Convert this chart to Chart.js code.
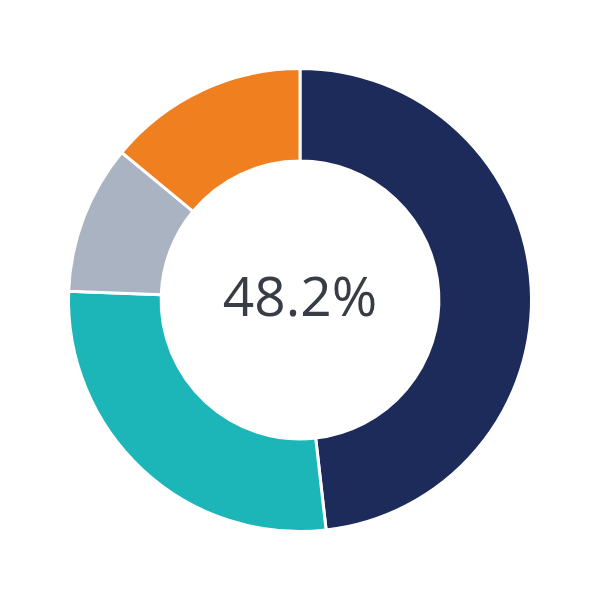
<!DOCTYPE html>
<html>
<head>
<meta charset="utf-8">
<script src="https://cdn.jsdelivr.net/npm/chart.js@4/dist/chart.umd.min.js"></script>
<style>
  html, body { margin: 0; padding: 0; background: #fff; }
  #wrap { width: 600px; height: 600px; }
</style>
</head>
<body>
<div id="wrap"><canvas id="chart"></canvas></div>
<script>
const labels = ['Navy', 'Teal', 'Gray', 'Orange']
const values = [48.2, 27.4, 10.4, 14.0]
const colors = ['#1c2b5a', '#1cb5b8', '#a9b3c1', '#f07f1f']
const centerLabel = '48.2%'

// draws the big number in the hole
const centerText = {
  id: 'centerText',
  afterDraw(chart) {
    const { ctx, chartArea } = chart
    const x = (chartArea.left + chartArea.right) / 2
    const y = (chartArea.top + chartArea.bottom) / 2
    ctx.save()
    ctx.font = '400 55px "Open Sans"'
    ctx.fillStyle = '#383c45'
    ctx.textAlign = 'center'
    ctx.textBaseline = 'alphabetic'
    ctx.fillText(centerLabel, x, y + 16)
    ctx.restore()
  },
}

new Chart(document.getElementById('chart'), {
  type: 'doughnut',
  data: {
    labels: labels,
    datasets: [
      {
        data: values,
        backgroundColor: colors,
        borderColor: '#ffffff',
        borderWidth: 3,
      },
    ],
  },
  options: {
    responsive: true,
    maintainAspectRatio: false,
    animation: false,
    cutout: '60%',
    layout: { padding: 67 },
    plugins: {
      legend: { display: false },
      tooltip: { enabled: false },
    },
  },
  plugins: [centerText],
})
</script>
</body>
</html>
